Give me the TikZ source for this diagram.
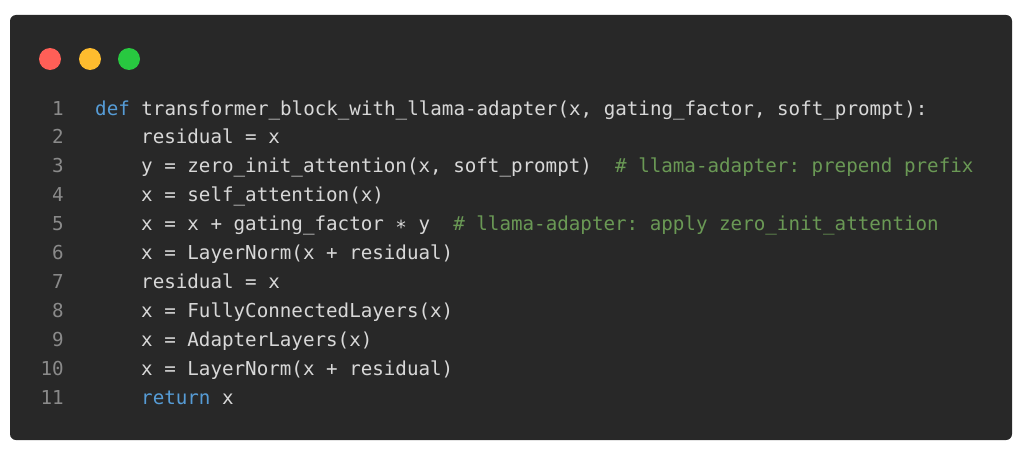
\documentclass[tikz,border=0pt]{standalone}
\usepackage{fontspec}
\setmonofont{DejaVu Sans Mono}
\definecolor{bgc}{HTML}{282828}
\definecolor{txt}{HTML}{D8D8D8}
\definecolor{kw}{HTML}{569CD6}
\definecolor{cm}{HTML}{6A9955}
\definecolor{ln}{HTML}{8A8A8A}
\definecolor{dr}{HTML}{FF5F57}
\definecolor{dy}{HTML}{FEBC2E}
\definecolor{dg}{HTML}{28C840}
\tikzset{code/.style={anchor=base west,inner sep=0pt,text=txt,font=\ttfamily\fontsize{19.2}{19.2}\selectfont},
num/.style={anchor=base east,inner sep=0pt,text=ln,font=\ttfamily\fontsize{19.2}{19.2}\selectfont},
dot/.style={circle,minimum size=22pt,inner sep=0pt}}
\begin{document}
\begin{tikzpicture}[x=1pt,y=-1pt]
\useasboundingbox (0,0) rectangle (1024,452);
\fill[white] (0,0) rectangle (1024,452);
\fill[bgc,rounded corners=6pt] (10,15) rectangle (1012,440);
\node[dot,fill=dr] (d1) at (50,59) {};
\node[dot,fill=dy] (d2) at (90,59) {};
\node[dot,fill=dg] (d3) at (129,59) {};
\def\Y#1{{115+28.9*(#1-1)}}
\foreach \i in {1,...,11}{\node[num] (n\i) at (64,\Y{\i}) {\i};}
\node[code] (c1) at (95,\Y{1}) {\textcolor{kw}{def} transformer\_block\_with\_llama-adapter(x, gating\_factor, soft\_prompt):};
\node[code] (c2) at (141,\Y{2}) {residual = x};
\node[code] (c3) at (141,\Y{3}) {y = zero\_init\_attention(x, soft\_prompt)\ \ \textcolor{cm}{\# llama-adapter: prepend prefix}};
\node[code] (c4) at (141,\Y{4}) {x = self\_attention(x)};
\node[code] (c5) at (141,\Y{5}) {x = x + gating\_factor ∗ y\ \ \textcolor{cm}{\# llama-adapter: apply zero\_init\_attention}};
\node[code] (c6) at (141,\Y{6}) {x = LayerNorm(x + residual)};
\node[code] (c7) at (141,\Y{7}) {residual = x};
\node[code] (c8) at (141,\Y{8}) {x = FullyConnectedLayers(x)};
\node[code] (c9) at (141,\Y{9}) {x = AdapterLayers(x)};
\node[code] (c10) at (141,\Y{10}) {x = LayerNorm(x + residual)};
\node[code] (c11) at (141,\Y{11}) {\textcolor{kw}{return} x};
\end{tikzpicture}
\end{document}
